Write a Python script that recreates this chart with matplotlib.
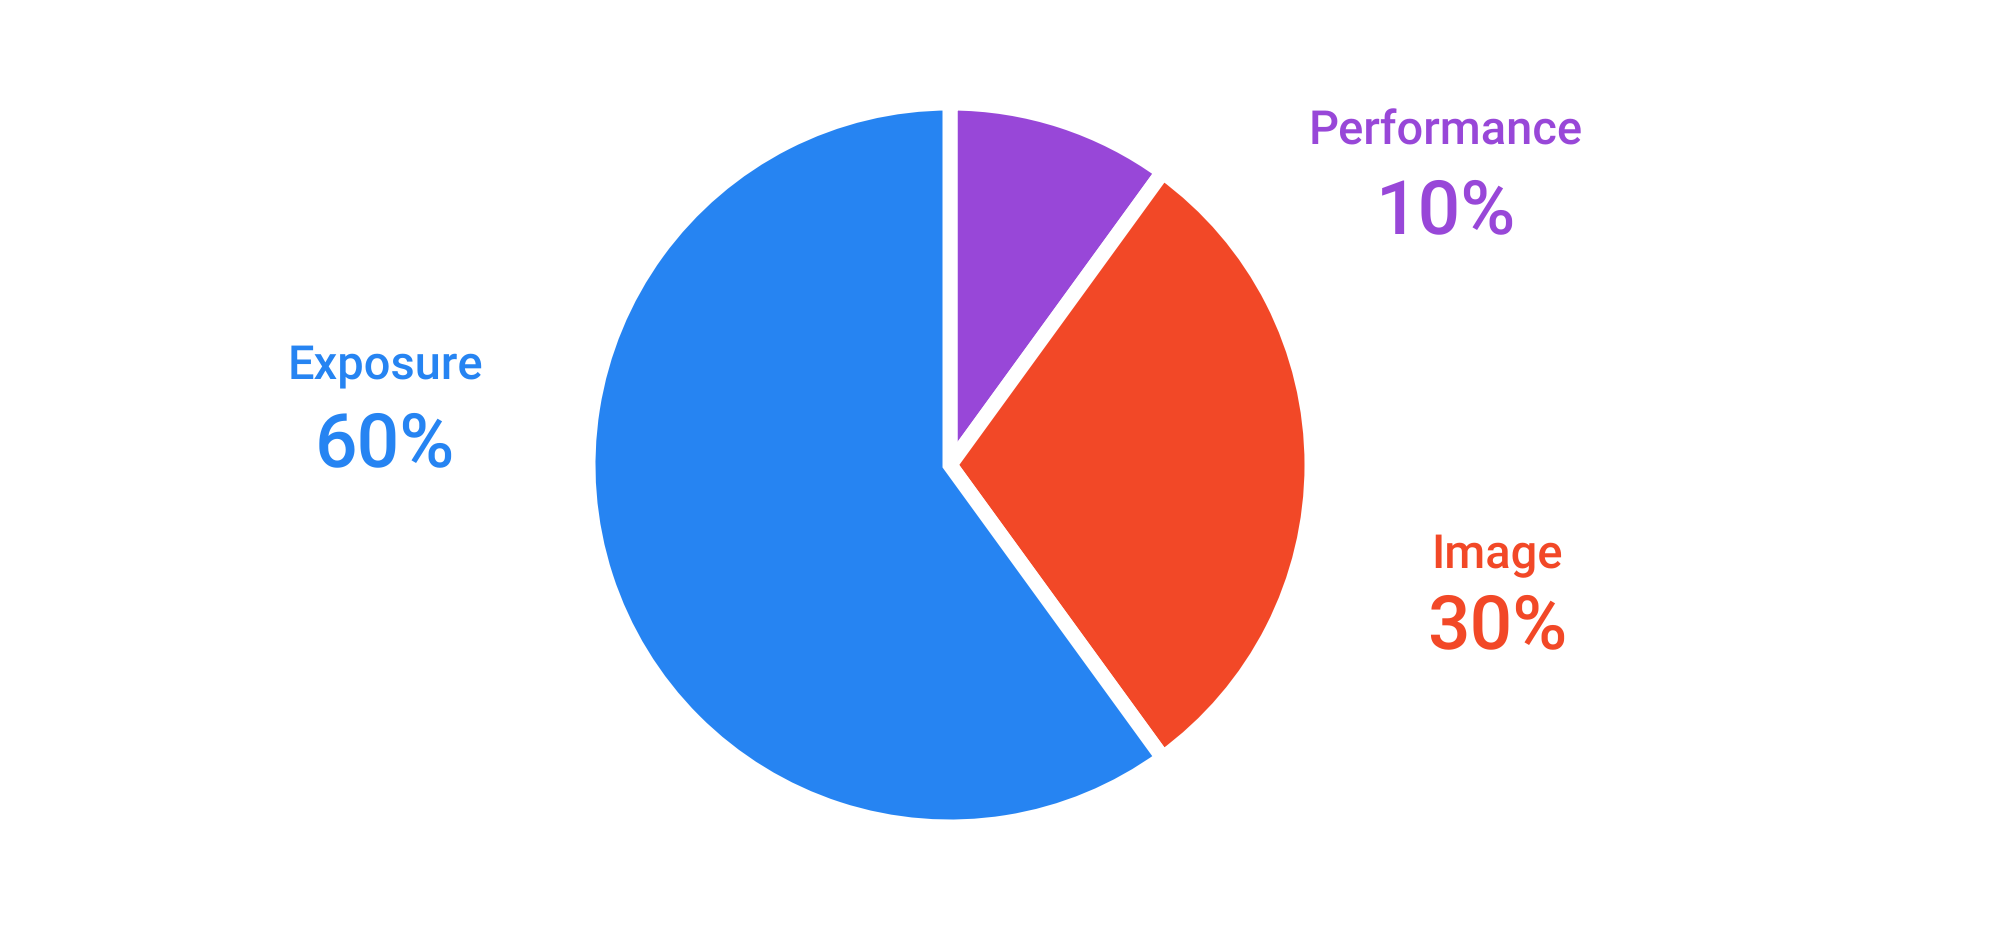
import matplotlib
matplotlib.use("Agg")
import matplotlib.pyplot as plt

plt.rcParams["text.hinting"] = "no_hinting"
plt.rcParams["text.hinting_factor"] = 1

# slice data (clockwise from 12 o'clock)
labels = ["Performance", "Image", "Exposure"]
values = [10, 30, 60]
colors = ["#9847D8", "#F24827", "#2684F2"]
pct_text = ["10%", "30%", "60%"]

W, H = 2000, 930
fig = plt.figure(figsize=(W / 100, H / 100), dpi=100)

# pie centre and radius in pixels
cx, cy, r = 950, 465, 362
ax = fig.add_axes([(cx - r) / W, (H - cy - r) / H, 2 * r / W, 2 * r / H])
ax.pie(values, colors=colors, startangle=90, counterclock=False, radius=1,
       wedgeprops=dict(edgecolor="white", linewidth=10.8))
ax.set_xlim(-1, 1)
ax.set_ylim(-1, 1)
ax.set_aspect("equal")
ax.axis("off")

# label positions: (x centre, name baseline, pct baseline) in pixels
label_pos = {
    "Performance": (1446, 145, 233),
    "Image": (1497, 568, 648),
    "Exposure": (385, 378, 466),
}
for name, col, pct in zip(labels, colors, pct_text):
    x, yn, yp = label_pos[name]
    fig.text(x / W, 1 - yn / H, name, color=col, fontsize=33.5, fontweight="medium",
             family="Roboto", ha="center", va="baseline")
    fig.text(x / W, 1 - yp / H, pct, color=col, fontsize=54, fontweight="medium",
             family="Roboto", ha="center", va="baseline")

fig.savefig("out.png", dpi=100, facecolor="white")
